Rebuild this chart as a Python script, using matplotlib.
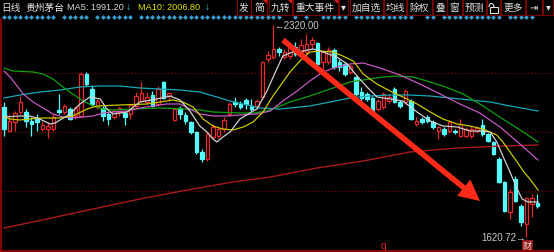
import matplotlib
matplotlib.use('Agg')
import matplotlib.pyplot as plt
from matplotlib.patches import Rectangle, Polygon, FancyArrow, Arc
from matplotlib.transforms import IdentityTransform, blended_transform_factory

W, H = 554, 253

# 日K数据 (开, 高, 低, 收)
opens = [2049.6, 1970.4, 2000.1, 2033.1, 2033.1, 2003.4, 2010.0, 1977.0, 1977.0, 1977.0,
         2039.7, 2033.1, 2043.0, 2019.9, 2019.9, 2158.4, 2108.9, 2049.6, 2046.3, 2026.5,
         2016.6, 2033.1, 2029.8, 2026.5, 2052.9, 2069.4, 2066.1, 2089.1, 2059.5, 2132.0,
         2085.8, 2006.7, 2046.3, 2023.2, 2000.1, 1967.1, 1901.2, 1878.1, 1950.6, 1953.9,
         1977.0, 2026.5, 2066.1, 2059.5, 2072.7, 2052.9, 2052.9, 2082.6, 2207.9, 2214.5,
         2240.9, 2214.5, 2217.8, 2247.5, 2231.0, 2231.0, 2257.3, 2260.6, 2198.0, 2198.0,
         2237.6, 2198.0, 2191.4, 2165.0, 2148.5, 2099.0, 2092.4, 2079.3, 2043.0, 2049.6,
         2069.4, 2108.9, 2066.1, 2066.1, 2069.4, 1993.5, 2010.0, 2016.6, 2000.1, 1970.4,
         1977.0, 1970.4, 1970.4, 1953.9, 1953.9, 1953.9, 1970.4, 1990.2, 1960.5, 1934.1,
         1878.1, 1802.2, 1703.3, 1812.1, 1723.1, 1663.7, 1729.7, 1733.0]
highs = [2066.1, 2026.5, 2036.4, 2085.8, 2043.0, 2016.6, 2026.5, 2003.4, 2000.1, 2026.5,
         2092.4, 2059.5, 2049.6, 2052.9, 2165.0, 2165.0, 2122.1, 2076.0, 2052.9, 2033.1,
         2043.0, 2049.6, 2036.4, 2059.5, 2099.0, 2132.0, 2099.0, 2102.3, 2118.8, 2135.3,
         2099.0, 2049.6, 2052.9, 2033.1, 2003.4, 1970.4, 1911.1, 1967.1, 1993.5, 1986.9,
         2016.6, 2066.1, 2082.6, 2069.4, 2079.3, 2076.0, 2076.0, 2201.3, 2234.3, 2320.0,
         2247.5, 2240.9, 2257.3, 2263.9, 2273.8, 2290.3, 2280.4, 2263.9, 2234.3, 2247.5,
         2244.2, 2207.9, 2198.0, 2191.4, 2151.8, 2115.5, 2099.0, 2085.8, 2076.0, 2099.0,
         2092.4, 2115.5, 2072.7, 2108.9, 2076.0, 2016.6, 2016.6, 2023.2, 2006.7, 1986.9,
         1983.6, 2006.7, 1977.0, 2010.0, 1983.6, 1986.9, 1986.9, 2010.0, 1963.8, 1937.4,
         1884.7, 1805.5, 1779.1, 1822.0, 1729.7, 1752.8, 1762.6, 1762.6]
lows = [1953.9, 1967.1, 1970.4, 2026.5, 1983.6, 1953.9, 1970.4, 1970.4, 1947.3, 1970.4,
        2026.5, 2026.5, 2006.7, 2010.0, 2016.6, 2118.8, 2052.9, 2043.0, 2003.4, 1990.2,
        2010.0, 2019.9, 1990.2, 2010.0, 2046.3, 2066.1, 2059.5, 2049.6, 2052.9, 2076.0,
        2069.4, 2003.4, 2010.0, 1993.5, 1960.5, 1894.6, 1868.2, 1871.5, 1944.0, 1947.3,
        1967.1, 2019.9, 2049.6, 2043.0, 2043.0, 2036.4, 2043.0, 2076.0, 2198.0, 2207.9,
        2217.8, 2207.9, 2207.9, 2217.8, 2217.8, 2217.8, 2240.9, 2184.8, 2165.0, 2191.4,
        2174.9, 2168.3, 2151.8, 2158.4, 2085.8, 2069.4, 2069.4, 2033.1, 2036.4, 2043.0,
        2062.8, 2062.8, 2046.3, 2059.5, 2006.7, 1986.9, 1993.5, 1996.8, 1977.0, 1944.0,
        1953.9, 1963.8, 1960.5, 1950.6, 1950.6, 1947.3, 1963.8, 1953.9, 1934.1, 1891.3,
        1798.9, 1703.3, 1680.2, 1736.3, 1657.1, 1620.72, 1686.8, 1716.5]
closes = [1977.0, 2003.4, 2029.8, 2066.1, 2003.4, 1993.5, 2000.1, 1990.2, 1986.9, 2016.6,
          2033.1, 2052.9, 2010.0, 2046.3, 2158.4, 2125.4, 2059.5, 2069.4, 2019.9, 2010.0,
          2036.4, 2046.3, 2016.6, 2056.2, 2085.8, 2095.7, 2082.6, 2052.9, 2108.9, 2079.3,
          2095.7, 2043.0, 2026.5, 2003.4, 1967.1, 1901.2, 1878.1, 1960.5, 1983.6, 1977.0,
          2006.7, 2059.5, 2059.5, 2049.6, 2059.5, 2043.0, 2069.4, 2198.0, 2221.1, 2240.9,
          2231.0, 2231.0, 2247.5, 2224.4, 2254.0, 2257.3, 2270.5, 2191.4, 2231.0, 2237.6,
          2181.5, 2181.5, 2158.4, 2184.8, 2092.4, 2079.3, 2076.0, 2036.4, 2069.4, 2092.4,
          2082.6, 2066.1, 2052.9, 2102.3, 2010.0, 2003.4, 2000.1, 2003.4, 1983.6, 1983.6,
          1960.5, 2000.1, 1967.1, 1993.5, 1977.0, 1977.0, 1980.3, 1960.5, 1937.4, 1894.6,
          1802.2, 1706.6, 1769.2, 1739.6, 1670.3, 1749.5, 1749.5, 1723.1]

# 均线 (读图取点)
ma5_x = [0, 2.9, 4.7, 6.5, 8.4, 9.3, 12.0, 13.8, 15.6, 17.5, 18.7, 19.8, 22.4, 24.7, 27.8,
         30.2, 32.0, 33.8, 35.6, 36.9, 38.0, 38.7, 39.8, 41.1, 42.9, 45.3, 46.0, 47.8, 49.6,
         50.7, 52.5, 54.4, 56.2, 58.0, 60.5, 62.4, 64.2, 66.0, 67.8, 70.2, 72.5, 75.1, 77.5,
         79.8, 82.4, 84.7, 86.5, 88.4, 89.6, 90.7, 92.0, 93.3, 94.2, 95.3, 97.1]
ma5_y = [2016.6, 2019.9, 2019.9, 2010.0, 1993.5, 1996.8, 2026.5, 2059.5, 2082.6, 2076.0,
         2043.0, 2026.5, 2033.1, 2066.1, 2076.0, 2085.8, 2072.7, 2036.4, 1986.9, 1967.1,
         1944.0, 1934.1, 1950.6, 1967.1, 2010.0, 2036.4, 2043.0, 2102.3, 2174.9, 2217.8,
         2231.0, 2234.3, 2240.9, 2231.0, 2214.5, 2191.4, 2151.8, 2115.5, 2082.6, 2076.0,
         2069.4, 2033.1, 2003.4, 1986.9, 1983.6, 1970.4, 1970.4, 1967.1, 1934.1, 1888.0,
         1835.2, 1779.1, 1746.2, 1736.3, 1736.3]
ma10_x = [0, 1.1, 2.9, 6.5, 10.2, 12.5, 15.1, 16.9, 21.1, 26.0, 28.4, 30.7, 32.5, 34.4, 36.2,
          38.0, 39.8, 41.6, 43.5, 45.3, 47.1, 48.9, 50.2, 52.0, 53.8, 55.6, 57.5, 59.8, 61.6,
          63.5, 65.3, 67.8, 70.2, 72.5, 75.1, 77.5, 79.8, 82.4, 84.7, 87.1, 89.6, 90.7, 92.0,
          93.3, 94.4, 95.6, 97.1]
ma10_y = [2016.6, 2010.0, 2006.7, 2013.3, 2013.3, 2019.9, 2043.0, 2052.9, 2056.2, 2059.5,
          2066.1, 2072.7, 2066.1, 2049.6, 2010.0, 1986.9, 1977.0, 1973.7, 1983.6, 2000.1,
          2033.1, 2085.8, 2118.8, 2165.0, 2201.3, 2231.0, 2234.3, 2231.0, 2217.8, 2201.3,
          2158.4, 2125.4, 2102.3, 2082.6, 2059.5, 2033.1, 2010.0, 1993.5, 1986.9, 1977.0,
          1957.2, 1934.1, 1901.2, 1868.2, 1838.5, 1812.1, 1775.8]
ma20_x = [0, 1.1, 2.4, 3.5, 5.3, 7.1, 8.9, 10.7, 12.5, 14.4, 16.2, 18.0, 19.8, 22.4, 24.7,
          27.1, 29.6, 32.0, 33.8, 35.6, 38.0, 40.5, 42.9, 46.0, 48.4, 50.7, 53.3, 55.6, 58.0,
          60.5, 62.9, 65.3, 68.9, 72.0, 75.6, 79.3, 82.9, 86.5, 90.2, 93.8, 97.1]
ma20_y = [2168.3, 2148.5, 2118.8, 2092.4, 2066.1, 2046.3, 2026.5, 2016.6, 2013.3, 2016.6,
          2019.9, 2029.8, 2033.1, 2036.4, 2046.3, 2052.9, 2059.5, 2059.5, 2043.0, 2026.5,
          2019.9, 2019.9, 2023.2, 2026.5, 2036.4, 2069.4, 2102.3, 2135.3, 2165.0, 2181.5,
          2191.4, 2194.7, 2174.9, 2155.1, 2125.4, 2092.4, 2059.5, 2029.8, 1983.6, 1927.5,
          1874.8]
ma30_x = [0, 1.6, 5.3, 7.1, 8.9, 10.7, 12.5, 14.4, 16.2, 18.0, 19.8, 23.5, 28.4, 33.3, 35.6,
          38.0, 42.9, 45.3, 47.8, 50.2, 52.0, 55.6, 59.3, 62.9, 66.5, 68.9, 71.5, 74.4, 76.9,
          79.8, 83.5, 87.1, 90.7, 94.4, 97.1]
ma30_y = [2178.2, 2168.3, 2165.0, 2158.4, 2141.9, 2115.5, 2092.4, 2069.4, 2052.9, 2043.0,
          2039.7, 2043.0, 2046.3, 2043.0, 2039.7, 2033.1, 2029.8, 2029.8, 2036.4, 2052.9,
          2066.1, 2085.8, 2108.9, 2132.0, 2141.9, 2148.5, 2151.8, 2148.5, 2135.3, 2118.8,
          2092.4, 2052.9, 2010.0, 1967.1, 1934.1]
ma60_x = [0, 2.9, 6.5, 10.2, 13.8, 17.5, 21.1, 24.7, 32.0, 35.6, 38.7, 41.1, 43.5, 46.5,
          50.2, 52.0, 55.6, 59.3, 62.9, 66.5, 70.2, 73.8, 77.5, 81.1, 84.7, 88.4, 92.0, 97.1]
ma60_y = [2079.3, 2089.1, 2099.0, 2105.6, 2115.5, 2118.8, 2118.8, 2112.2, 2105.6, 2099.0,
          2082.6, 2069.4, 2059.5, 2046.3, 2043.0, 2046.3, 2052.9, 2066.1, 2079.3, 2085.8,
          2089.1, 2089.1, 2085.8, 2079.3, 2072.7, 2066.1, 2052.9, 2036.4]
ma250_x = [0, 7.8, 16.2, 24.7, 33.3, 41.6, 48.4, 56.9, 65.3, 73.8, 82.4, 90.7, 97.1]
ma250_y = [1650.5, 1680.2, 1713.2, 1746.2, 1775.8, 1802.2, 1818.7, 1848.4, 1871.5, 1901.2,
           1914.3, 1920.9, 1924.2]

# 顶部标记点所在的日期序号
mark_days = (list(range(0, 10)) + list(range(11, 16)) + list(range(17, 24)) + list(range(25, 51))
             + [53, 55] + list(range(58, 63)) + list(range(64, 75)) + [77, 78]
             + list(range(80, 91)) + list(range(92, 97)))

RED = '#e8282a'
CYAN = '#54fcfc'
CJK = ['Noto Sans CJK SC', 'DejaVu Sans']
LAT = ['Liberation Sans', 'DejaVu Sans']

fig = plt.figure(figsize=(W / 100, H / 100), dpi=100, facecolor='black')
ax = fig.add_axes([1 / W, 1.5 / H, 553 / W, (1 - 20 / H) - 1.5 / H])
ax.set_facecolor('black')
ax.set_xlim(-0.545, 100)
ax.set_ylim(1576.3, 2339.8)
ax.set_xticks([])
ax.set_yticks([])
for s in ['top', 'right']:
    ax.spines[s].set_visible(False)
for s in ['left', 'bottom']:
    ax.spines[s].set_color('#a00000')
    ax.spines[s].set_linewidth(1.2)

for p in [2161.7, 1967.1, 1772.5]:
    ax.axhline(p, color='#8a0000', lw=0.8, ls=(0, (1, 2)), zorder=0)

# 蜡烛
n = len(opens)
for i in range(n):
    o, h, l, c = opens[i], highs[i], lows[i], closes[i]
    up = c >= o
    col = RED if up else CYAN
    ax.vlines(i, l, h, color=col, lw=0.9, zorder=2)
    bot = min(o, c)
    hgt = max(abs(c - o), 1.5)
    ax.bar(i, hgt, bottom=bot, width=0.72, facecolor='black' if up else CYAN,
           edgecolor=col, lw=0.9, zorder=3)

ax.plot(ma250_x, ma250_y, color='#a81c1c', lw=1.0, zorder=4)
ax.plot(ma60_x, ma60_y, color='#14a8b8', lw=0.9, zorder=4)
ax.plot(ma30_x, ma30_y, color='#10a010', lw=0.9, zorder=4)
ax.plot(ma20_x, ma20_y, color='#c458c4', lw=0.9, zorder=4)
ax.plot(ma10_x, ma10_y, color='#c8c800', lw=0.9, zorder=4)
ax.plot(ma5_x, ma5_y, color='#d0d0d0', lw=0.9, zorder=4)

# 最高/最低标注
hi_i = highs.index(max(highs))
lo_i = lows.index(min(lows))
ax.annotate('\u2190%.2f' % highs[hi_i], xy=(hi_i, highs[hi_i]), xytext=(1, 0),
            textcoords='offset pixels', ha='left', va='center', color='#c8c8c8',
            fontsize=7, family=LAT, zorder=6)
ax.annotate('%.2f\u2192' % lows[lo_i], xy=(lo_i, lows[lo_i]), xytext=(0, 0),
            textcoords='offset pixels', ha='right', va='center', color='#c8c8c8',
            fontsize=7, family=LAT, zorder=6)
ax.annotate('财', xy=(lo_i, lows[lo_i]), xytext=(1, -8), textcoords='offset pixels',
            ha='center', va='center', color='#ffd8d8', fontsize=6.5, family=CJK,
            bbox=dict(boxstyle='square,pad=0.1', fc='#901818', ec='none'), zorder=6)

bt = blended_transform_factory(ax.transData, ax.transAxes)
ax.text(69, 0.025, 'q', transform=bt, color='#e02020', fontsize=7.5, family=LAT,
        ha='center', va='center')
ax.scatter(mark_days, [1.0085] * len(mark_days), transform=bt, marker='D', s=6,
           color='#3a9fd0', lw=0, clip_on=False, zorder=6)

# 红色箭头
fig.add_artist(FancyArrow(283, H - 41, 197, -161, width=5.5, head_width=21, head_length=21,
                          length_includes_head=True, transform=IdentityTransform(),
                          color='#ff2a1a', lw=0, zorder=10))

# 顶部工具栏
def fx(x):
    return x / W

def fy(y):
    return 1 - y / H

ty = 7.5
fig.text(fx(1), fy(ty), '日线', color='#e0e0e0', fontsize=7, family=CJK, va='center')
fig.text(fx(25), fy(ty), '贵州茅台', color='#f0f0f0', fontsize=7, family=CJK, va='center')
fig.text(fx(67), fy(ty), 'MA5: 1991.20', color='#d8d8d8', fontsize=6.6, family=LAT, va='center')
fig.text(fx(128), fy(ty), '\u2193', color='#30d8f0', fontsize=7, family=LAT, va='center', ha='center')
fig.text(fx(138), fy(ty), 'MA10: 2006.80', color='#e0e000', fontsize=6.6, family=LAT, va='center')
fig.text(fx(207), fy(ty), '\u2193', color='#30d8f0', fontsize=7, family=LAT, va='center', ha='center')

buttons = [('发', 237, 251), ('简', 251, 267), ('九转', 269, 292), ('重大事件', 293, 338),
           ('\u25be', 339, 348), ('加自选', 350, 383), ('均线', 384, 406), ('除权', 407, 432),
           ('叠', 433, 447), ('窗', 447, 462), ('预测', 463, 486), ('', 487, 500),
           ('更多', 501, 525), ('\u21e5', 526, 542), ('\u25be', 543, 553)]
for lab, x0, x1 in buttons:
    fig.add_artist(Rectangle((fx(x0), fy(16)), (x1 - x0) / W, 16 / H, transform=fig.transFigure,
                             fill=False, ec='#7a0000', lw=0.8))
    if lab:
        fig.text(fx((x0 + x1) / 2), fy(ty), lab, color='#e0e0e0', fontsize=7,
                 family=CJK, ha='center', va='center')
for x1 in [267, 292, 338]:
    fig.add_artist(Polygon([(fx(x1 - 5), fy(0)), (fx(x1), fy(0)), (fx(x1), fy(5))],
                           closed=True, transform=fig.transFigure, fc='#e02020', ec='none'))
# 锁图标
fig.add_artist(Rectangle((489.5, H - 14), 8, 6, transform=IdentityTransform(),
                         fill=False, ec='#e0e0e0', lw=0.8))
fig.add_artist(Arc((491.5, H - 8), 5, 7, theta1=0, theta2=180, transform=IdentityTransform(),
                   ec='#e0e0e0', lw=0.8))

fig.savefig('out.png', dpi=100, facecolor='black')
